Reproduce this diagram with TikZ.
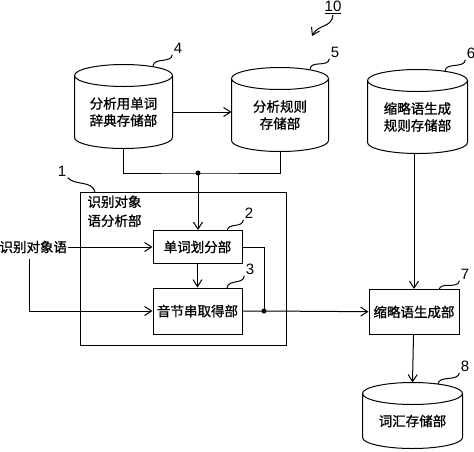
\documentclass[tikz,border=0pt]{standalone}
\usepackage{fontspec}
\setmainfont{Noto Sans CJK SC}[FakeBold=1]
\newfontfamily\numfont{Liberation Sans}
\usetikzlibrary{arrows.meta}
\usetikzlibrary{calc}

\begin{document}
\begin{tikzpicture}[x=1pt, y=-1pt, line width=1pt,
	font=\fontsize{13.5}{17}\selectfont,
	>={Straight Barb[length=7pt,width=9pt]},
	store/.style = {rectangle, align=center, inner sep=0pt},
	unit/.style = {draw, rectangle, inner sep=0pt},
	tagno/.style = {font=\numfont\fontsize{15}{15}\selectfont, inner sep=1pt},
	tag/.style = {to path={.. controls +(1,-9) and +(-1,9) .. (\tikztotarget)}},
	dot/.style = {circle, fill, inner sep=0pt, minimum size=5pt}]
	
	\useasboundingbox (0,0) rectangle (474,451);
	
	% Storage units (body from top ellipse centre to lowest point)
	\node[store, minimum width=97pt, minimum height=72pt] (dict) at (123.5,112) {分析用单词\\辞典存储部};
	\node[store, minimum width=96pt, minimum height=72pt] (rule) at (280,115) {分析规则\\存储部};
	\node[store, minimum width=99pt, minimum height=72pt] (abbrule) at (417.5,117) {缩略语生成\\规则存储部};
	\node[store, minimum width=99pt, minimum height=54pt] (vocab) at (412.5,421) {词汇存储部};
	
	% Cylinder outlines
	\foreach \s in {dict,rule,abbrule,vocab}
		\draw let \p1 = ($(\s.north east)-(\s.north west)$) in
			(\s.north west) -- ([yshift=11pt]\s.south west)
			arc[start angle=180, end angle=360, x radius=0.5*\x1, y radius=11pt]
			-- (\s.north east)
			(\s.north) ellipse[x radius=0.5*\x1, y radius=11pt];
	
	% Analysis part
	\node[unit, minimum width=206pt, minimum height=153pt] (ana) at (183,268.5) {};
	\node[anchor=north west, align=left, inner sep=0pt] (anatext) at (87,195) {识别对象\\[2pt]语分析部};
	\node[unit, minimum width=89pt, minimum height=33pt] (split) at (197.5,247) {单词划分部};
	\node[unit, minimum width=89pt, minimum height=46pt] (syll) at (197.5,311) {音节串取得部};
	
	% Abbreviation generator
	\node[unit, minimum width=90pt, minimum height=45pt] (gen) at (414,312) {缩略语生成部};
	
	% Input word
	\node[anchor=west, inner sep=0pt] (word) at (-1,247) {识别对象语};
	
	% Reference numbers
	\node[tagno] (n10) at (333,7) {\underline{10}};
	\node[tagno] (n1) at (62,171) {1};
	\node[tagno] (n2) at (249,213) {2};
	\node[tagno] (n3) at (250,269) {3};
	\node[tagno] (n4) at (178,48) {4};
	\node[tagno] (n5) at (335,52) {5};
	\node[tagno] (n6) at (471,53) {6};
	\node[tagno] (n7) at (465,274) {7};
	\node[tagno] (n8) at (465,366) {8};
	
	\draw (153,66) to[tag] (n4.south west);
	\draw (310,69) to[tag] (n5.south west);
	\draw (445,71) to[tag] (n6.south west);
	\draw (227,231) to[tag] (n2.south west);
	\draw (227,288) to[tag] (n3.south west);
	\draw (439,290) to[tag] (n7.south west);
	\draw (438,384) to[tag] (n8.south west);
	\draw (95,192) .. controls (92,180) and (75,186) .. (n1.south east);
	\draw[->] (n10.south) .. controls (332,28) and (318,24) .. (312,36);
	
	% Connectors
	\coordinate (join) at (198,173);
	\coordinate (fork) at (29,259);
	\coordinate (merge) at (264,311);
	
	\draw[->] (dict.east) -- (rule.west |- dict.east);
	\draw (dict.south) |- (join) -| (rule.south);
	\draw[->] (join) -- (split.north -| join);
	\draw[->] (word) -- (split);
	\draw[->] (fork) |- (syll);
	\draw[->] (split) -- (syll);
	\draw (split) -| (merge);
	\draw[->] (syll) -- (merge) -- (gen);
	\draw[->] (gen.north |- abbrule.south) -- (gen.north);
	\draw[->] (gen) -- ([yshift=11pt]vocab.north);
	
	\node[dot] at (join) {};
	\node[dot] at (merge) {};
	
\end{tikzpicture}
\end{document}
